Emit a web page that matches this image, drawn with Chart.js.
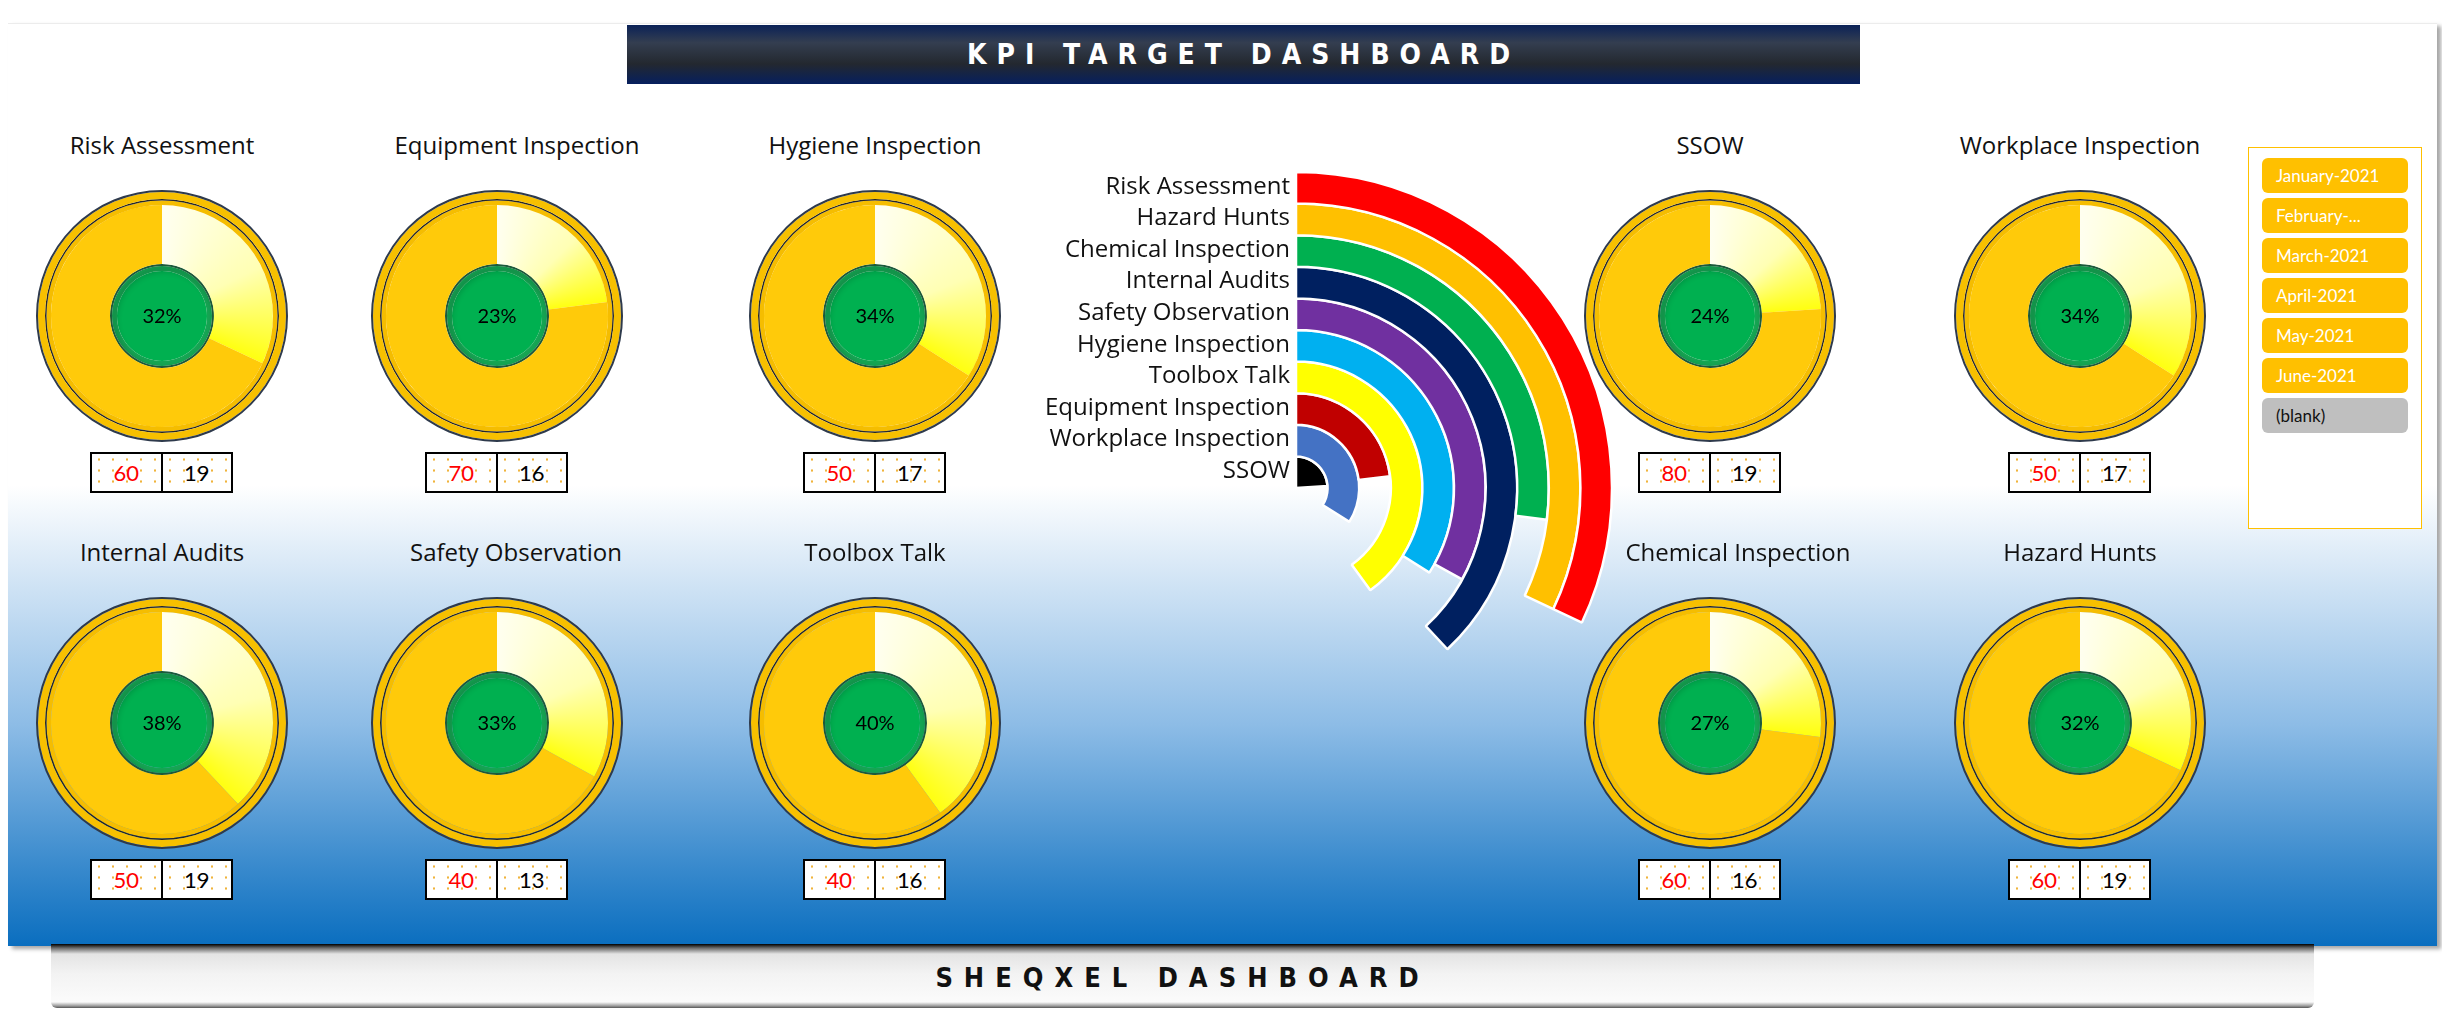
<!DOCTYPE html>
<html>
<head>
<meta charset="utf-8">
<script src="https://cdn.jsdelivr.net/npm/chart.js@4.4.1/dist/chart.umd.min.js"></script>
<style>
  html, body { margin: 0; padding: 0; background: #fff; }
  #page { position: relative; width: 2442px; height: 1014px; overflow: hidden; font-family: "Open Sans", sans-serif; }
  #panel { position: absolute; left: 8px; top: 23px; width: 2429px; height: 922px;
           background: linear-gradient(#ffffff 0%, #ffffff 50%, #8dbce6 76%, #0a6ebf 100%);
           border-top: 1px solid #ececec; box-shadow: 4px 3px 4px rgba(0,0,0,0.35); }
  #topbar { position: absolute; left: 627px; top: 25px; width: 1233px; height: 59px;
            background: linear-gradient(#0b2257 0%, #343e50 30%, #23282f 66%, #061f5e 100%);
            color: #fff; text-align: center;
            font: bold 28px "DejaVu Sans Condensed", "DejaVu Sans", sans-serif; font-stretch: condensed;
            letter-spacing: 10px; line-height: 59px; }
  #bottombar { position: absolute; left: 51px; top: 944px; width: 2263px; height: 64px;
               background: linear-gradient(#000 0px, #6a6a6a 4px, #e4e4e4 10px, #f3f3f3 30px, #fbfbfb 58px, #9a9a9a 62px, #555 64px);
               border-radius: 0 0 6px 6px; color: #111; text-align: center;
               font: bold 27px "DejaVu Sans Condensed", "DejaVu Sans", sans-serif; font-stretch: condensed;
               letter-spacing: 11px; line-height: 68px; }
  .gtitle { position: absolute; width: 400px; text-align: center; font-size: 24px; color: #111; line-height: 30px; }
  .gauge { position: absolute; width: 270px; height: 270px; }
  .vbox { position: absolute; width: 143px; height: 41px; border-collapse: collapse; }
  .vbox td { width: 50%; border: 2px solid #000; text-align: center; font: 22px "Lato", sans-serif; padding: 0;
             background-color: #fff;
             background-image: radial-gradient(circle, #f0b43c 0.9px, transparent 1.4px);
             background-size: 14px 11px; }
  .vbox td.t { color: #ff0000; }
  #radial { position: absolute; left: 896px; top: 168px; width: 800px; height: 640px; }
  #slicer { position: absolute; left: 2248px; top: 147px; width: 172px; height: 380px; border: 1px solid #ffc000; background: #fff; }
  .item { position: absolute; left: 13px; width: 146px; height: 35px; border-radius: 6px; background: #ffc000;
          color: #fff; font: 17px "Lato", sans-serif; line-height: 35px; padding-left: 14px; box-sizing: border-box; }
  .item.blank { background: #bfbfbf; color: #111; }
</style>
</head>
<body>
<div id="page">
  <div id="panel"></div>
  <div id="topbar">KPI TARGET DASHBOARD</div>
  <canvas id="radial" width="800" height="640"></canvas>
  <div id="slicer"></div>
  <div id="bottombar">SHEQXEL DASHBOARD</div>
</div>
<script>
// gauge data (one entry per KPI card)
const gaugeNames = ["Risk Assessment", "Equipment Inspection", "Hygiene Inspection", "SSOW", "Workplace Inspection",
                    "Internal Audits", "Safety Observation", "Toolbox Talk", "Chemical Inspection", "Hazard Hunts"];
const targets  = [60, 70, 50, 80, 50, 50, 40, 40, 60, 60];
const actuals  = [19, 16, 17, 19, 17, 19, 13, 16, 16, 19];
const percents = [32, 23, 34, 24, 34, 38, 33, 40, 27, 32];

// radial bar data
const ringLabels = ["Risk Assessment", "Hazard Hunts", "Chemical Inspection", "Internal Audits", "Safety Observation",
                    "Hygiene Inspection", "Toolbox Talk", "Equipment Inspection", "Workplace Inspection", "SSOW"];
const ringValues = [32, 32, 27, 38, 33, 34, 40, 23, 34, 24];
const ringColors = ["#ff0000", "#ffc000", "#00b050", "#002060", "#7030a0",
                    "#00b0f0", "#ffff00", "#c00000", "#4472c4", "#000000"];

// slicer
const months = ["January-2021", "February-...", "March-2021", "April-2021", "May-2021", "June-2021", "(blank)"];

// card positions
const colX = [162, 497, 875, 1710, 2080];
const rowY = [316, 723];
const titleShift = [0, 20, 0, 0, 0, 0, 19, 0, 28, 0];

const page = document.getElementById('page');

const centerText = {
  id: 'centerText',
  afterDatasetsDraw(chart, args, opts) {
    const {ctx, chartArea} = chart;
    const x = (chartArea.left + chartArea.right) / 2;
    const y = (chartArea.top + chartArea.bottom) / 2;
    ctx.save();
    ctx.font = '20px Lato';
    ctx.fillStyle = '#000';
    ctx.textAlign = 'center';
    ctx.textBaseline = 'middle';
    ctx.fillText(opts.text, x, y + 1);
    ctx.restore();
  }
};

const buttonShadow = {
  id: 'buttonShadow',
  beforeDatasetDraw(chart, args) {
    if (args.index !== 5) return;
    const ctx = chart.ctx;
    ctx.save();
    ctx.shadowColor = 'rgba(0,0,0,0.45)';
    ctx.shadowBlur = 6;
    ctx.shadowOffsetX = 3;
    ctx.shadowOffsetY = 4;
  },
  afterDatasetDraw(chart, args) {
    if (args.index !== 5) return;
    chart.ctx.restore();
  }
};

// pale-to-yellow fill for the achieved slice, gold for the rest
function pieColors(pct) {
  return (c) => {
    if (c.dataIndex === 1) return '#ffca0a';
    const a = c.chart.chartArea;
    if (!a) return '#ffff99';
    const x = (a.left + a.right) / 2, y = (a.top + a.bottom) / 2;
    const ctx = c.chart.ctx;
    let g;
    if (ctx.createConicGradient) {
      g = ctx.createConicGradient(-Math.PI / 2, x, y);
      g.addColorStop(0, '#fffff0');
      g.addColorStop(pct / 100 * 0.55, '#ffffb4');
      g.addColorStop(pct / 100, '#ffff10');
      g.addColorStop(1, '#ffff10');
    } else {
      g = ctx.createLinearGradient(x, y - 110, x + 60, y + 100);
      g.addColorStop(0, '#fffff0');
      g.addColorStop(1, '#ffff10');
    }
    return g;
  };
}

gaugeNames.forEach((name, i) => {
  const cx = colX[i % 5], cy = rowY[Math.floor(i / 5)];

  const t = document.createElement('div');
  t.className = 'gtitle';
  t.textContent = name;
  t.style.left = (cx - 200 + titleShift[i]) + 'px';
  t.style.top = (cy - 186) + 'px';
  page.appendChild(t);

  const cv = document.createElement('canvas');
  cv.className = 'gauge';
  cv.width = 270; cv.height = 270;
  cv.style.left = (cx - 135) + 'px';
  cv.style.top = (cy - 135) + 'px';
  page.appendChild(cv);

  const box = document.createElement('table');
  box.className = 'vbox';
  box.style.left = (cx - 72) + 'px';
  box.style.top = (cy + 136) + 'px';
  box.innerHTML = '<tr><td class="t">' + targets[i] + '</td><td>' + actuals[i] + '</td></tr>';
  page.appendChild(box);

  const pct = percents[i];
  new Chart(cv, {
    type: 'doughnut',
    data: {
      labels: ['done', 'rest'],
      datasets: [
        { data: [100], backgroundColor: '#2e3a4c', weight: 2 },
        { data: [100], backgroundColor: '#f7c000', weight: 7 },
        { data: [100], backgroundColor: '#262626', weight: 1.5 },
        { data: [100], backgroundColor: '#f5bd00', weight: 4.5 },
        { data: [pct, 100 - pct], backgroundColor: pieColors(pct), weight: 59 },
        { data: [100], backgroundColor: '#1c5a3a', weight: 2 },
        { data: [100], backgroundColor: '#16a553', weight: 5 },
        { data: [100], backgroundColor: '#00b050', weight: 45 }
      ]
    },
    options: {
      responsive: false,
      animation: false,
      events: [],
      radius: 126,
      cutout: 0,
      borderWidth: 0,
      elements: { arc: { borderWidth: 0 } },
      plugins: { legend: { display: false }, tooltip: { enabled: false }, centerText: { text: pct + '%' } }
    },
    plugins: [centerText, buttonShadow]
  });
});

// radial bar chart: one ring per KPI, label at the left end of each ring
const ringLabelPlugin = {
  id: 'ringLabels',
  afterDatasetsDraw(chart) {
    const ctx = chart.ctx;
    ctx.save();
    ctx.font = '24px "Open Sans"';
    ctx.fillStyle = '#111';
    ctx.textAlign = 'right';
    ctx.textBaseline = 'middle';
    chart.data.datasets.forEach((ds, i) => {
      const arc = chart.getDatasetMeta(i).data[0];
      const r = (arc.outerRadius + arc.innerRadius) / 2;
      ctx.fillText(ds.label, arc.x - 6, arc.y - r - 1);
    });
    ctx.restore();
  }
};

new Chart(document.getElementById('radial'), {
  type: 'doughnut',
  data: {
    labels: ['value', 'rest'],
    datasets: ringLabels.map((lab, i) => ({
      label: lab,
      data: [ringValues[i], 100 - ringValues[i]],
      backgroundColor: [ringColors[i], 'rgba(0,0,0,0)'],
      borderColor: '#ffffff',
      borderWidth: [2.5, 0]
    }))
  },
  options: {
    responsive: false,
    animation: false,
    events: [],
    radius: 316,
    cutout: 0,
    plugins: { legend: { display: false }, tooltip: { enabled: false } }
  },
  plugins: [ringLabelPlugin]
});

// slicer items
const slicer = document.getElementById('slicer');
months.forEach((m, i) => {
  const d = document.createElement('div');
  d.className = 'item' + (m === '(blank)' ? ' blank' : '');
  d.style.top = (10 + 40 * i) + 'px';
  d.textContent = m;
  slicer.appendChild(d);
});
</script>
</body>
</html>
